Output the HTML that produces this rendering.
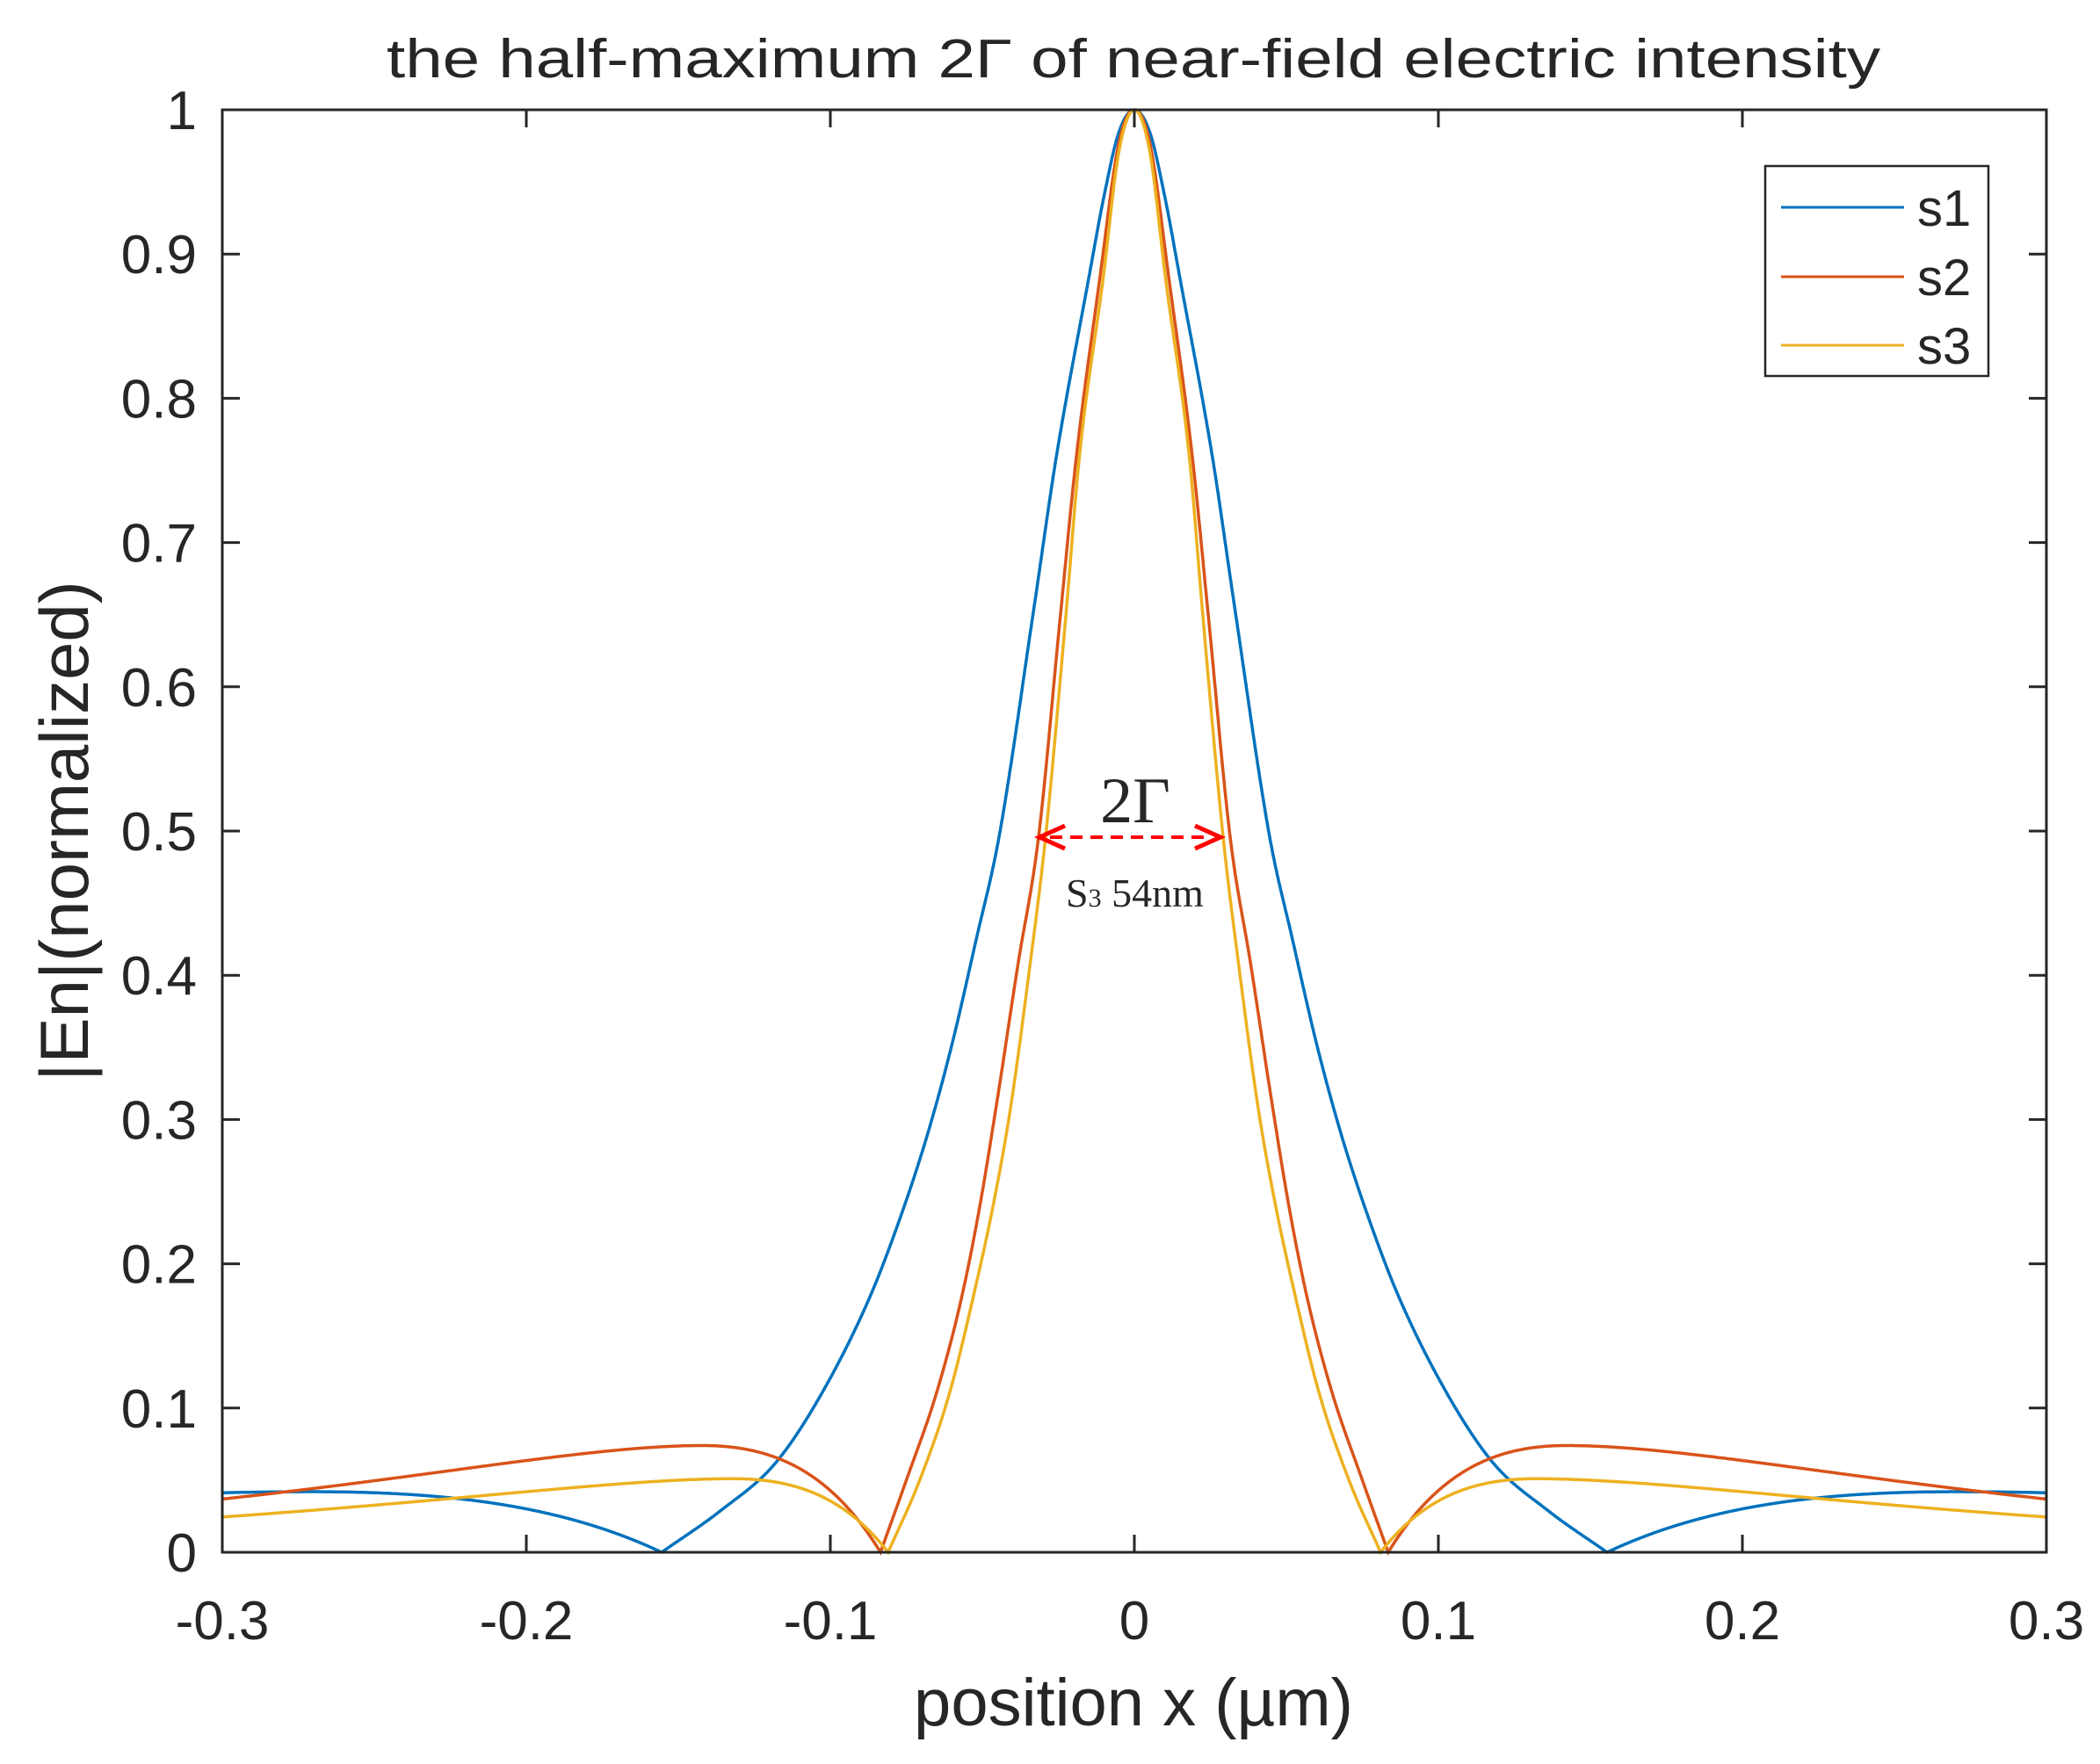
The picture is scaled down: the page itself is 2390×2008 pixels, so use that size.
<!DOCTYPE html>
<html><head><meta charset="utf-8"><style>
html,body{margin:0;padding:0;background:#fff;}
svg{display:block;}
text{font-family:"Liberation Sans",sans-serif;fill:#262626;}
</style></head><body>
<svg id="s" width="2390" height="2008" viewBox="0 0 2390 2008" xmlns="http://www.w3.org/2000/svg">
<rect width="2390" height="2008" fill="#fff"/>
<g id="curves"></g>
<rect x="253" y="125" width="2076" height="1642" fill="none" stroke="#262626" stroke-width="3"/>
<g id="ticks" stroke="#262626" stroke-width="3"></g>
<g id="labels" font-size="62"></g>
<text x="1290" y="88" font-size="62" text-anchor="middle" fill="#000" textLength="1700" lengthAdjust="spacingAndGlyphs">the half-maximum 2Γ of near-field electric intensity</text>
<text x="1290" y="1964" font-size="76" text-anchor="middle">position x (µm)</text>
<text transform="translate(100,946) rotate(-90)" font-size="78" text-anchor="middle">|En|(normalized)</text>
<rect x="2009" y="189" width="254" height="239" fill="#fff" stroke="#262626" stroke-width="2.5"/>
<line x1="2027" y1="236" x2="2167" y2="236" stroke="#0072BD" stroke-width="3"/>
<line x1="2027" y1="315" x2="2167" y2="315" stroke="#D95319" stroke-width="3"/>
<line x1="2027" y1="393" x2="2167" y2="393" stroke="#EDB120" stroke-width="3"/>
<text x="2182" y="257" font-size="58" fill="#000">s1</text>
<text x="2182" y="336" font-size="58" fill="#000">s2</text>
<text x="2182" y="414" font-size="58" fill="#000">s3</text>
<text x="1292" y="936" font-size="74" text-anchor="middle" fill="#000" style="font-family:'Liberation Serif',serif">2Γ</text>
<line x1="1195" y1="953" x2="1377" y2="953" stroke="#f00" stroke-width="4" stroke-dasharray="14,9"/>
<polyline points="1212,940 1183,953 1212,966" fill="none" stroke="#f00" stroke-width="5"/>
<polyline points="1360,940 1389,953 1360,966" fill="none" stroke="#f00" stroke-width="5"/>
<text x="1213" y="1032" font-size="46" fill="#000" style="font-family:'Liberation Serif',serif">S<tspan font-size="30">3</tspan> 54nm</text>
</svg>
<script>
(function(){
var NS="http://www.w3.org/2000/svg";
var L=253,R=2329,T=125,B=1767;
function X(x){return L+(x+0.3)/0.6*(R-L);}
function Y(y){return B-y*(B-T);}
function mono(px,py){
 var n=px.length,d=[],m=[];
 for(var i=0;i<n-1;i++)d.push((py[i+1]-py[i])/(px[i+1]-px[i]));
 m[0]=0;
 for(i=1;i<n-1;i++){ if(d[i-1]*d[i]<=0)m[i]=0; else m[i]=(d[i-1]+d[i])/2; var a=m[i]/d[i-1],b=m[i]/d[i]; var s=a*a+b*b; if(s>9){var t=3/Math.sqrt(s);m[i]=t*m[i];} }
 m[n-1]=d[n-2];
 return function(x){
  if(x<=px[0])return py[0];
  for(var i=0;i<n-1;i++){ if(x<=px[i+1]){
   var h=px[i+1]-px[i],t=(x-px[i])/h,t2=t*t,t3=t2*t;
   return (2*t3-3*t2+1)*py[i]+(t3-2*t2+t)*h*m[i]+(-2*t3+3*t2)*py[i+1]+(t3-t2)*h*m[i+1];
  }}
  return py[n-1];
 };
}
var series=[
 {c:"#0072BD",px:[0,0.005,0.0098,0.0152,0.0257,0.033,0.0445,0.052,0.060,0.068,0.077,0.087,0.1026,0.118,0.136,0.1555],
  py:[1,0.985,0.942,0.881,0.759,0.655,0.496,0.425,0.352,0.290,0.232,0.177,0.111,0.062,0.029,0],z:0.1555,p:0.27,A:0.042,k:0.6},
 {c:"#D95319",px:[0,0.005,0.0115,0.0191,0.0243,0.0315,0.0384,0.045,0.051,0.057,0.065,0.075,0.0835],
  py:[1,0.978,0.881,0.759,0.65,0.496,0.406,0.315,0.238,0.175,0.111,0.05,0],z:0.0835,p:0.142,A:0.074,k:0.5},
 {c:"#EDB120",px:[0,0.005,0.0104,0.0181,0.0225,0.0292,0.0344,0.0408,0.0463,0.053,0.0607,0.0706,0.081],
  py:[1,0.972,0.881,0.759,0.65,0.496,0.406,0.307,0.242,0.177,0.111,0.05,0],z:0.081,p:0.132,A:0.051,k:0.4}
];
var g=document.getElementById("curves");
series.forEach(function(s){
 var f=mono(s.px,s.py),pts=[];
 for(var i=0;i<=2400;i++){
  var x=-0.3+0.6*i/2400,a=Math.abs(x),y;
  if(a<=s.z)y=f(a); else {var t=(a-s.z)/(s.p-s.z);var k=t<1?1:s.k;y=s.A*Math.pow(t,k)*Math.exp(k*(1-t));}
  pts.push(X(x).toFixed(1)+","+Y(y).toFixed(1));
 }
 var pl=document.createElementNS(NS,"polyline");
 pl.setAttribute("points",pts.join(" "));pl.setAttribute("fill","none");
 pl.setAttribute("stroke",s.c);pl.setAttribute("stroke-width","3.5");
 g.appendChild(pl);
});
var tk=document.getElementById("ticks"),lb=document.getElementById("labels");
function line(a,b,c,d){var l=document.createElementNS(NS,"line");l.setAttribute("x1",a);l.setAttribute("y1",b);l.setAttribute("x2",c);l.setAttribute("y2",d);tk.appendChild(l);}
function txt(x,y,s,anc){var t=document.createElementNS(NS,"text");t.setAttribute("x",x);t.setAttribute("y",y);t.setAttribute("text-anchor",anc);t.textContent=s;lb.appendChild(t);}
var xs=["-0.3","-0.2","-0.1","0","0.1","0.2","0.3"];
for(var i=0;i<7;i++){var x=-0.3+0.1*i,px=X(x);line(px,B,px,B-20);line(px,T,px,T+20);txt(px,1866,xs[i],"middle");}
var ys=["0","0.1","0.2","0.3","0.4","0.5","0.6","0.7","0.8","0.9","1"];
for(i=0;i<=10;i++){var py=Y(i/10);line(L,py,L+20,py);line(R,py,R-20,py);txt(224,py+22,ys[i],"end");}
})();
</script>
</body></html>
